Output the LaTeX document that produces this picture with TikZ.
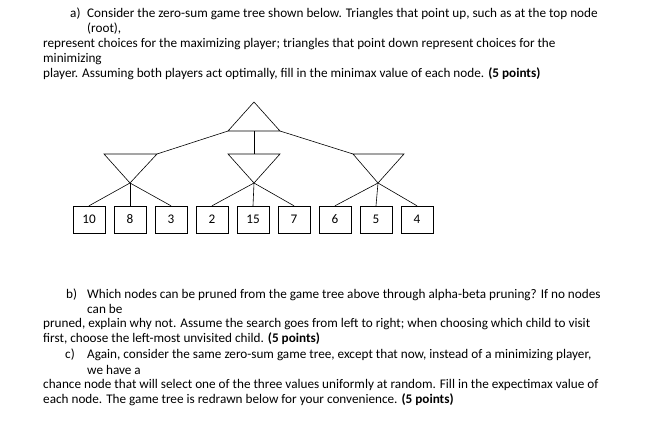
\documentclass[tikz,border=0pt]{standalone}
\usepackage{fontspec}
\setmainfont{Carlito}
\begin{document}
\begin{tikzpicture}[x=1pt,y=-1pt,
 txt/.style={anchor=west,inner sep=0pt,font=\fontsize{13.2}{15}\selectfont},
 leaf/.style={draw,minimum width=32pt,minimum height=27pt,inner sep=0pt,font=\fontsize{13.2}{15}\selectfont},
 edge/.style={draw,line width=0.6pt}]
\useasboundingbox (0,0) rectangle (646,424);
\node[txt] (ta) at (70,14) {a)};
\node[txt] (t1) at (87,14) {Consider the zero-sum game tree shown below. Triangles that point up, such as at the top node};
\node[txt] (t2) at (87,29) {(root),};
\node[txt] (t3) at (43,44) {represent choices for the maximizing player; triangles that point down represent choices for the};
\node[txt] (t4) at (43,59) {minimizing};
\node[txt] (t5) at (43,74) {player. Assuming both players act optimally, fill in the minimax value of each node. \textbf{(5 points)}};
% tree
\draw[edge] (228,131) -- (254,102) -- (280,131) -- cycle;
\coordinate (rl) at (228,131); \coordinate (rm) at (254,131); \coordinate (rr) at (280,131);
\foreach \n/\a/\b/\c in {L/104/130/157, M/228/254/280, R/353/378/404}{
 \draw[edge] (\a,154) -- (\c,154) -- (\b,183) -- cycle;
 \coordinate (\n) at (\b,183);
 \coordinate (\n tl) at (\a,154); \coordinate (\n tr) at (\c,154); \coordinate (\n tm) at (\b,154);
}
\draw[edge] (rl) -- (Ltr);
\draw[edge] (rm) -- (Mtm);
\draw[edge] (rr) -- (Rtl);
\foreach \i/\v/\p in {1/10/L,2/8/L,3/3/L,4/2/M,5/15/M,6/7/M,7/6/R,8/5/R,9/4/R}{
 \node[leaf] (k\i) at ({89+41*(\i-1)},219.5) {\v};
 \draw[edge] (\p) -- (k\i.north);
}
\node[txt] (tb) at (66,295) {b)};
\node[txt] (t6) at (87,295) {Which nodes can be pruned from the game tree above through alpha-beta pruning? If no nodes};
\node[txt] (t7) at (87,309) {can be};
\node[txt] (t8) at (43,324) {pruned, explain why not. Assume the search goes from left to right; when choosing which child to visit};
\node[txt] (t9) at (43,339) {first, choose the left-most unvisited child. \textbf{(5 points)}};
\node[txt] (tc) at (65,355) {c)};
\node[txt] (t10) at (87,355) {Again, consider the same zero-sum game tree, except that now, instead of a minimizing player,};
\node[txt] (t11) at (87,370) {we have a};
\node[txt] (t12) at (43,385) {chance node that will select one of the three values uniformly at random. Fill in the expectimax value of};
\node[txt] (t13) at (43,400) {each node. The game tree is redrawn below for your convenience. \textbf{(5 points)}};
\end{tikzpicture}
\end{document}
